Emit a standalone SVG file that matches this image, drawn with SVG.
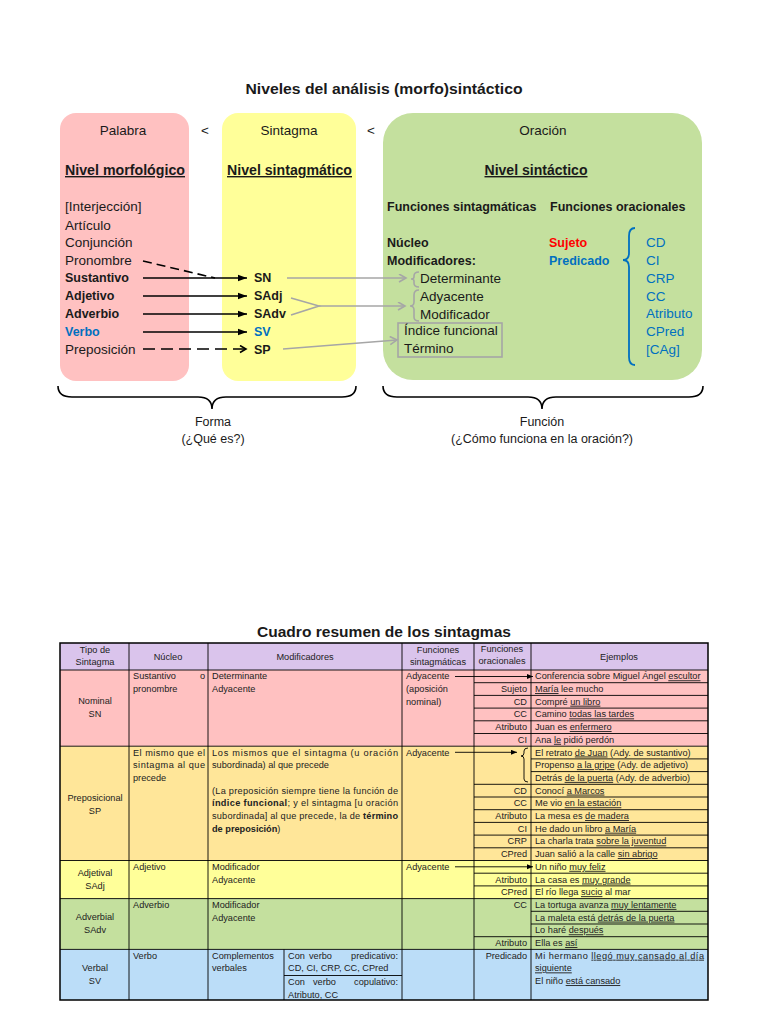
<svg xmlns="http://www.w3.org/2000/svg" width="768" height="1024" viewBox="0 0 768 1024">
<defs>
<marker id="ah" markerWidth="10" markerHeight="8" refX="9" refY="4" orient="auto" markerUnits="userSpaceOnUse"><path d="M0,0.8 L9,4 L0,7.2 z" fill="#000"/></marker>
<marker id="ao" markerWidth="10" markerHeight="10" refX="7" refY="4" orient="auto" markerUnits="userSpaceOnUse"><path d="M1,0.5 L7,4 L1,7.5" fill="none" stroke="#000" stroke-width="1.6"/></marker>
<marker id="ag" markerWidth="12" markerHeight="10" refX="8" refY="4.5" orient="auto" markerUnits="userSpaceOnUse"><path d="M1,0.5 L8,4.5 L1,8.5" fill="none" stroke="#a6a6a6" stroke-width="1.6"/></marker>
<marker id="at" markerWidth="7" markerHeight="6" refX="6" refY="2.5" orient="auto" markerUnits="userSpaceOnUse"><path d="M0,0 L6,2.5 L0,5 z" fill="#000"/></marker>
</defs>
<style>
text{font-family:"Liberation Sans",Arial,sans-serif;fill:#1a1a1a}
.r{font-size:13.5px}
.b{font-size:12.5px;font-weight:bold}
.h{font-size:14px;font-weight:bold;text-decoration:underline}
.blue{fill:#0070C0}
.red{fill:#FF0000}
.t{font-size:9.2px;fill:#222}
.tb{font-weight:bold}
.c{text-anchor:middle}
.e{text-anchor:end}
.u{text-decoration:underline}
.arr{stroke:#000;stroke-width:1.6;fill:none}
.gl{stroke:#a6a6a6;stroke-width:1.6;fill:none}
.grid{stroke:#000;stroke-width:0.9;fill:none}
</style>
<rect width="768" height="1024" fill="#fff"/>

<text x="384" y="94" class="c" font-size="15" font-weight="bold" textLength="277" lengthAdjust="spacingAndGlyphs">Niveles del análisis (morfo)sintáctico</text>

<g id="box-palabra">
<rect x="60" y="113" width="129" height="268" rx="16" fill="#FFC1C1"/>
<text x="123" y="135" class="r c">Palabra</text>
<text x="65" y="175" class="h" textLength="120" lengthAdjust="spacingAndGlyphs">Nivel morfológico</text>
<text x="65" y="211" class="r">[Interjección]</text>
<text x="65" y="229.5" class="r">Artículo</text>
<text x="65" y="247" class="r">Conjunción</text>
<text x="65" y="264.5" class="r">Pronombre</text>
<text x="65" y="282" class="b">Sustantivo</text>
<text x="65" y="300" class="b">Adjetivo</text>
<text x="65" y="318" class="b">Adverbio</text>
<text x="65" y="335.5" class="b blue">Verbo</text>
<text x="65" y="353.5" class="r">Preposición</text>
</g>

<text x="205" y="135" class="r c">&lt;</text>
<text x="371" y="135" class="r c">&lt;</text>

<g id="box-sintagma">
<rect x="222" y="113" width="134" height="268" rx="16" fill="#FFFF99"/>
<text x="289" y="135" class="r c">Sintagma</text>
<text x="227" y="175" class="h" textLength="125" lengthAdjust="spacingAndGlyphs">Nivel sintagmático</text>
<text x="254" y="282" class="b">SN</text>
<text x="254" y="300" class="b">SAdj</text>
<text x="254" y="318" class="b">SAdv</text>
<text x="254" y="335.5" class="b blue">SV</text>
<text x="254" y="353.5" class="b">SP</text>
</g>

<g id="box-oracion">
<rect x="383" y="113" width="319" height="267" rx="30" fill="#C4E09E"/>
<text x="543" y="135" class="r c">Oración</text>
<text x="536" y="175" class="h c" textLength="103" lengthAdjust="spacingAndGlyphs">Nivel sintáctico</text>
<text x="387" y="211" class="b">Funciones sintagmáticas</text>
<text x="550" y="211" class="b">Funciones oracionales</text>
<text x="387" y="246.5" class="b">Núcleo</text>
<text x="387" y="264.5" class="b">Modificadores:</text>
<text x="420" y="282.5" class="r">Determinante</text>
<text x="420" y="300.5" class="r">Adyacente</text>
<text x="420" y="318.5" class="r">Modificador</text>
<rect x="398" y="323" width="104" height="34" fill="none" stroke="#a6a6a6" stroke-width="1.6"/>
<text x="404" y="334.5" class="r">Índice funcional</text>
<text x="404" y="352.5" class="r">Término</text>
<text x="549" y="246.5" class="b red">Sujeto</text>
<text x="549" y="264.5" class="b blue">Predicado</text>
<text x="646" y="246.5" class="r blue">CD</text>
<text x="646" y="264.5" class="r blue">CI</text>
<text x="646" y="282.5" class="r blue">CRP</text>
<text x="646" y="300.5" class="r blue">CC</text>
<text x="646" y="318" class="r blue">Atributo</text>
<text x="646" y="335.5" class="r blue">CPred</text>
<text x="646" y="353.5" class="r blue">[CAg]</text>
<path d="M635,228 Q629,228 629,236 L629,253 Q629,260 623,260 Q629,260 629,267 L629,357 Q629,365 635,365" fill="none" stroke="#0070C0" stroke-width="1.8"/>
<path d="M419,272 Q414,272 414,276 L414,277 Q414,279 411,279 Q414,279 414,281 L414,283 Q414,287 419,287" class="gl" stroke-width="1.3"/>
<path d="M419,290 Q414,290 414,295 L414,302 Q414,306 410,306 Q414,306 414,310 L414,317 Q414,321 419,321" class="gl" stroke-width="1.3"/>
</g>

<g id="connectors">
<line x1="143" y1="261" x2="215" y2="278" class="arr" stroke-dasharray="9,5"/>
<line x1="143" y1="278" x2="247" y2="278" class="arr" marker-end="url(#ah)"/>
<line x1="143" y1="296" x2="247" y2="296" class="arr" marker-end="url(#ah)"/>
<line x1="143" y1="314" x2="247" y2="314" class="arr" marker-end="url(#ah)"/>
<line x1="143" y1="332" x2="247" y2="332" class="arr" marker-end="url(#ah)"/>
<line x1="143" y1="349" x2="246" y2="349" class="arr" stroke-dasharray="12,6" marker-end="url(#ao)"/>
<line x1="287" y1="278" x2="406" y2="278" class="gl" marker-end="url(#ag)"/>
<polyline points="291,298 319,306 291,315" class="gl"/>
<line x1="319" y1="306" x2="405" y2="306" class="gl" marker-end="url(#ag)"/>
<line x1="283" y1="349" x2="397" y2="340" class="gl" marker-end="url(#ag)"/>
</g>

<g id="braces">
<path d="M58,386 Q58,397 72,397 L198,397 Q212,397 212,409 Q212,397 226,397 L342,397 Q356,397 356,386" fill="none" stroke="#000" stroke-width="1.6"/>
<path d="M383,386 Q383,397 397,397 L528,397 Q542,397 542,409 Q542,397 556,397 L689,397 Q703,397 703,386" fill="none" stroke="#000" stroke-width="1.6"/>
<text x="213" y="425.5" class="c" font-size="12.5" fill="#333">Forma</text>
<text x="213" y="442.5" class="c" font-size="12.5" fill="#333">(¿Qué es?)</text>
<text x="542" y="425.5" class="c" font-size="12.5" fill="#333">Función</text>
<text x="542" y="442.5" class="c" font-size="12.5" fill="#333">(¿Cómo funciona en la oración?)</text>
</g>

<text x="384" y="637" class="c" font-size="15" font-weight="bold" textLength="254" lengthAdjust="spacingAndGlyphs">Cuadro resumen de los sintagmas</text>

<g id="table">
<rect x="60" y="643" width="648" height="27" fill="#DAC4EC"/>
<rect x="60" y="670" width="648" height="76.2" fill="#FFC1C1"/>
<rect x="60" y="746.2" width="648" height="114.3" fill="#FFE699"/>
<rect x="60" y="860.5" width="648" height="38.1" fill="#FFFF99"/>
<rect x="60" y="898.6" width="648" height="50.8" fill="#C4E09E"/>
<rect x="60" y="949.4" width="648" height="50.6" fill="#BBDDF8"/>

<g class="grid">
<line x1="129" y1="643" x2="129" y2="1000"/>
<line x1="208" y1="643" x2="208" y2="1000"/>
<line x1="402" y1="643" x2="402" y2="1000"/>
<line x1="474" y1="643" x2="474" y2="1000"/>
<line x1="531" y1="643" x2="531" y2="1000"/>
<line x1="284" y1="949.4" x2="284" y2="1000"/>
<line x1="60" y1="670" x2="708" y2="670"/>
<line x1="60" y1="746.2" x2="708" y2="746.2"/>
<line x1="60" y1="860.5" x2="708" y2="860.5"/>
<line x1="60" y1="898.6" x2="708" y2="898.6"/>
<line x1="60" y1="949.4" x2="708" y2="949.4"/>
<line x1="474" y1="682.7" x2="708" y2="682.7"/>
<line x1="474" y1="695.4" x2="708" y2="695.4"/>
<line x1="474" y1="708.1" x2="708" y2="708.1"/>
<line x1="474" y1="720.8" x2="708" y2="720.8"/>
<line x1="474" y1="733.5" x2="708" y2="733.5"/>
<line x1="531" y1="758.9" x2="708" y2="758.9"/>
<line x1="531" y1="771.6" x2="708" y2="771.6"/>
<line x1="474" y1="784.3" x2="708" y2="784.3"/>
<line x1="474" y1="797" x2="708" y2="797"/>
<line x1="474" y1="809.7" x2="708" y2="809.7"/>
<line x1="474" y1="822.4" x2="708" y2="822.4"/>
<line x1="474" y1="835.1" x2="708" y2="835.1"/>
<line x1="474" y1="847.8" x2="708" y2="847.8"/>
<line x1="474" y1="873.2" x2="708" y2="873.2"/>
<line x1="474" y1="885.9" x2="708" y2="885.9"/>
<line x1="531" y1="911.3" x2="708" y2="911.3"/>
<line x1="531" y1="924" x2="708" y2="924"/>
<line x1="474" y1="936.7" x2="708" y2="936.7"/>
<line x1="284" y1="975.5" x2="402" y2="975.5"/>
<rect x="60" y="643" width="648" height="357" stroke-width="1.5"/>
</g>
</g>

<g id="header">
<text x="95" y="653" class="t c">Tipo de</text>
<text x="95" y="665" class="t c">Sintagma</text>
<text x="168" y="660" class="t c">Núcleo</text>
<text x="305" y="660" class="t c">Modificadores</text>
<text x="438" y="653" class="t c">Funciones</text>
<text x="438" y="665" class="t c">sintagmáticas</text>
<text x="502" y="652" class="t c">Funciones</text>
<text x="502" y="664" class="t c">oracionales</text>
<text x="619" y="660" class="t c">Ejemplos</text>
</g>

<g id="row-nominal">
<text x="95" y="704" class="t c">Nominal</text>
<text x="95" y="717" class="t c">SN</text>
<text x="133" y="679.3" class="t">Sustantivo</text>
<text x="205" y="679.3" class="t e">o</text>
<text x="133" y="692" class="t">pronombre</text>
<text x="212" y="679.3" class="t">Determinante</text>
<text x="212" y="692" class="t">Adyacente</text>
<text x="406" y="679.3" class="t">Adyacente</text>
<text x="406" y="692" class="t">(aposición</text>
<text x="406" y="704.7" class="t">nominal)</text>
<text x="527" y="692" class="t e">Sujeto</text>
<text x="527" y="704.7" class="t e">CD</text>
<text x="527" y="717.4" class="t e">CC</text>
<text x="527" y="730.1" class="t e">Atributo</text>
<text x="527" y="742.8" class="t e">CI</text>
<text x="535" y="679.3" class="t">Conferencia sobre Miguel Ángel <tspan class="u">escultor</tspan></text>
<text x="535" y="692" class="t"><tspan class="u">María</tspan> lee mucho</text>
<text x="535" y="704.7" class="t">Compré <tspan class="u">un libro</tspan></text>
<text x="535" y="717.4" class="t">Camino <tspan class="u">todas las tardes</tspan></text>
<text x="535" y="730.1" class="t">Juan es <tspan class="u">enfermero</tspan></text>
<text x="535" y="742.8" class="t">Ana <tspan class="u">le</tspan> pidió perdón</text>
</g>

<g id="row-preposicional">
<text x="95" y="801" class="t c">Preposicional</text>
<text x="95" y="814" class="t c">SP</text>
<text x="133" y="755.5" class="t" textLength="72" lengthAdjust="spacing">El mismo que el</text>
<text x="133" y="768.2" class="t" textLength="72" lengthAdjust="spacing">sintagma al que</text>
<text x="133" y="780.9" class="t">precede</text>
<text x="212" y="755.5" class="t" textLength="186" lengthAdjust="spacing">Los mismos que el sintagma (u oración</text>
<text x="212" y="768.2" class="t">subordinada) al que precede</text>
<text x="212" y="793.6" class="t" textLength="186" lengthAdjust="spacing">(La preposición siempre tiene la función de</text>
<text x="212" y="806.3" class="t" textLength="186" lengthAdjust="spacing"><tspan class="tb">índice funcional</tspan>; y el sintagma [u oración</text>
<text x="212" y="819" class="t" textLength="186" lengthAdjust="spacing">subordinada] al que precede, la de <tspan class="tb">término</tspan></text>
<text x="212" y="831.7" class="t"><tspan class="tb">de preposición</tspan>)</text>
<text x="406" y="755.5" class="t">Adyacente</text>
<text x="527" y="793.6" class="t e">CD</text>
<text x="527" y="806.3" class="t e">CC</text>
<text x="527" y="819" class="t e">Atributo</text>
<text x="527" y="831.7" class="t e">CI</text>
<text x="527" y="844.4" class="t e">CRP</text>
<text x="527" y="857.1" class="t e">CPred</text>
<text x="535" y="755.5" class="t">El retrato <tspan class="u">de Juan</tspan> (Ady. de sustantivo)</text>
<text x="535" y="768.2" class="t">Propenso <tspan class="u">a la gripe</tspan> (Ady. de adjetivo)</text>
<text x="535" y="780.9" class="t">Detrás <tspan class="u">de la puerta</tspan> (Ady. de adverbio)</text>
<text x="535" y="793.6" class="t">Conocí <tspan class="u">a Marcos</tspan></text>
<text x="535" y="806.3" class="t">Me vio <tspan class="u">en la estación</tspan></text>
<text x="535" y="819" class="t">La mesa es <tspan class="u">de madera</tspan></text>
<text x="535" y="831.7" class="t">He dado un libro <tspan class="u">a María</tspan></text>
<text x="535" y="844.4" class="t">La charla trata <tspan class="u">sobre la juventud</tspan></text>
<text x="535" y="857.1" class="t">Juan salió a la calle <tspan class="u">sin abrigo</tspan></text>
</g>

<g id="row-adjetival">
<text x="95" y="876" class="t c">Adjetival</text>
<text x="95" y="889" class="t c">SAdj</text>
<text x="133" y="869.8" class="t">Adjetivo</text>
<text x="212" y="869.8" class="t">Modificador</text>
<text x="212" y="882.5" class="t">Adyacente</text>
<text x="406" y="869.8" class="t">Adyacente</text>
<text x="527" y="882.5" class="t e">Atributo</text>
<text x="527" y="895.2" class="t e">CPred</text>
<text x="535" y="869.8" class="t">Un niño <tspan class="u">muy feliz</tspan></text>
<text x="535" y="882.5" class="t">La casa es <tspan class="u">muy grande</tspan></text>
<text x="535" y="895.2" class="t">El río llega <tspan class="u">sucio</tspan> al mar</text>
</g>

<g id="row-adverbial">
<text x="95" y="920" class="t c">Adverbial</text>
<text x="95" y="933" class="t c">SAdv</text>
<text x="133" y="907.9" class="t">Adverbio</text>
<text x="212" y="907.9" class="t">Modificador</text>
<text x="212" y="920.6" class="t">Adyacente</text>
<text x="527" y="907.9" class="t e">CC</text>
<text x="527" y="946" class="t e">Atributo</text>
<text x="535" y="907.9" class="t">La tortuga avanza <tspan class="u">muy lentamente</tspan></text>
<text x="535" y="920.6" class="t">La maleta está <tspan class="u">detrás de la puerta</tspan></text>
<text x="535" y="933.3" class="t">Lo haré <tspan class="u">después</tspan></text>
<text x="535" y="946" class="t">Ella es <tspan class="u">así</tspan></text>
</g>

<g id="row-verbal">
<text x="95" y="971" class="t c">Verbal</text>
<text x="95" y="984" class="t c">SV</text>
<text x="133" y="958.7" class="t">Verbo</text>
<text x="212" y="958.7" class="t">Complementos</text>
<text x="212" y="971.4" class="t">verbales</text>
<text x="288" y="958.7" class="t">Con</text>
<text x="309" y="958.7" class="t">verbo</text>
<text x="398" y="958.7" class="t e">predicativo:</text>
<text x="288" y="971.4" class="t">CD, CI, CRP, CC, CPred</text>
<text x="288" y="985" class="t">Con</text>
<text x="313" y="985" class="t">verbo</text>
<text x="398" y="985" class="t e">copulativo:</text>
<text x="288" y="997.5" class="t">Atributo, CC</text>
<text x="527" y="958.7" class="t e">Predicado</text>
<text x="535" y="958.7" class="t" textLength="169" lengthAdjust="spacing">Mi hermano <tspan class="u">llegó muy cansado al día</tspan></text>
<text x="535" y="971.4" class="t"><tspan class="u">siguiente</tspan></text>
<text x="535" y="984.1" class="t">El niño <tspan class="u">está cansado</tspan></text>
</g>

<g id="table-connectors">
<line x1="455" y1="676.5" x2="533" y2="676.5" stroke="#000" stroke-width="0.9" marker-end="url(#at)"/>
<line x1="455" y1="752.3" x2="517" y2="752.3" stroke="#000" stroke-width="0.9" marker-end="url(#at)"/>
<path d="M528,748 Q524,748 524,751 L524,753 Q524,756 521,756 Q524,756 524,759 L524,779 Q524,782 528,782" fill="none" stroke="#000" stroke-width="0.9"/>
<line x1="455" y1="866.8" x2="533" y2="866.8" stroke="#000" stroke-width="0.9" marker-end="url(#at)"/>
</g>
</svg>
